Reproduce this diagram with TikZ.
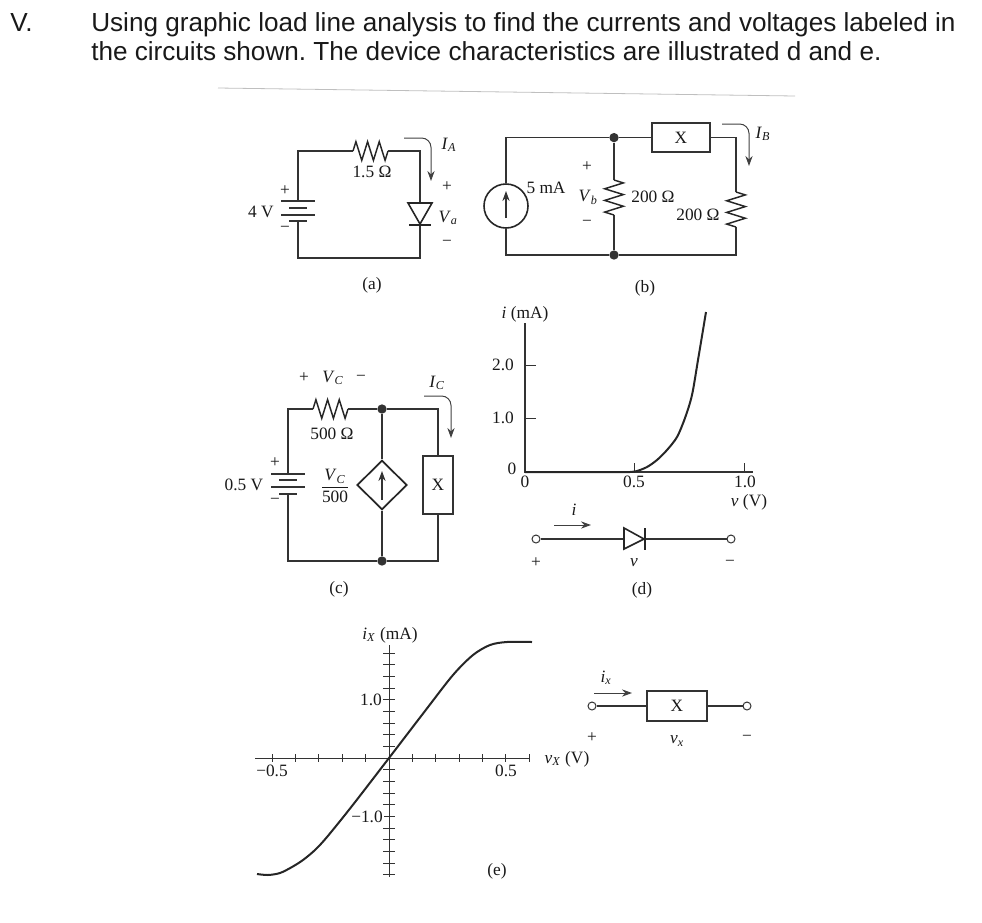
\documentclass[tikz,border=0pt]{standalone}
\usepackage{amsmath}
\usepackage{fontspec}
\setmainfont{Liberation Serif}
\newfontfamily\headfont{Liberation Sans}
\usetikzlibrary{shapes.geometric,arrows.meta,positioning,decorations.pathmorphing}
\frenchspacing
\newcommand{\sym}[2]{\textit{#1}\textsubscript{\textit{#2}}}

\begin{document}
\begin{tikzpicture}[
    x=0.75pt, y=-0.75pt,
    >={Stealth[length=7.5pt,width=5.4pt]},
    every node/.style={font=\fontsize{13}{15}\selectfont, text=black!90, inner sep=0pt},
    head/.style={font=\headfont\fontsize{19.6}{23}\selectfont, anchor=base west},
    wire/.style={draw=black!80, line width=0.85pt},
    res/.style={draw=black!85, line width=1.1pt, decorate, decoration={zigzag, amplitude=7pt, segment length=8.75pt}},
    part/.style={draw=black!85, line width=1.2pt},
    flow/.style={->, draw=black!75, line width=0.75pt, rounded corners=7pt},
    longplate/.style={fill=black!80, minimum width=26pt, minimum height=1.3pt},
    shortplate/.style={fill=black!80, minimum width=14pt, minimum height=1.6pt},
    bar/.style={fill=black!85, minimum width=17pt, minimum height=1.4pt},
    dot/.style={circle, fill=black!80, minimum size=7pt},
    term/.style={circle, draw=black!80, fill=white, line width=0.75pt, minimum size=6pt},
    xbox/.style={rectangle, draw=black!80, fill=white, line width=1.3pt},
    tick/.style={draw=black!80, line width=0.7pt},
    curve/.style={draw=black!85, line width=1.5pt}
]
\useasboundingbox (0,0) rectangle (982,922);

% question text
\node[head] (qnum) at (10,31) {V.};
\node[head] (qline1) at (91,31) {Using graphic load line analysis to find the currents and voltages labeled in};
\node[head] (qline2) at (91,60) {the circuits shown. The device characteristics are illustrated d and e.};
\coordinate (ruleL) at (218,88);
\coordinate (ruleR) at (795,96);
\draw[black!25, line width=0.6pt] (ruleL) -- (ruleR);

% circuit (a)
\coordinate (atl) at (298,151);
\coordinate (atr) at (420,151);
\coordinate (abr) at (420,258);
\coordinate (abl) at (298,258);
\coordinate (ar1) at (353,151);
\coordinate (ar2) at (388,151);
\coordinate (adtop) at (420,203);
\node[longplate] (ap1) at (298,201) {};
\node[shortplate] (ap2) at (298,208) {};
\node[longplate] (ap3) at (298,215) {};
\node[shortplate] (ap4) at (298,221) {};
\node[bar] (adbar) at (420,225) {};
\draw[wire] (ap1) -- (atl) -- (ar1);
\draw[res] (ar1) -- (ar2);
\draw[wire] (ar2) -- (atr) -- (adtop);
\draw[part] (408,203) -- (432,203) -- (420,224) -- cycle;
\draw[wire] (adbar) -- (abr) -- (abl) -- (ap4);
\coordinate (afs) at (404,138);
\coordinate (afc) at (431,138);
\coordinate (afe) at (431,181);
\draw[flow] (afs) -- (afc) -- (afe);
\node (aI) at (449,145) {\sym{I}{A}};
\node (aplus) at (447,187) {+};
\node (aV) at (448,218) {\sym{V}{a}};
\node (aminus) at (447,243) {−};
\node (ar) at (372,172) {1.5 Ω};
\node (abat) at (261,212) {4 V};
\node (abp) at (285,191) {+};
\node (abm) at (285,229) {−};
\node (acap) at (372,285) {(a)};

% circuit (b)
\coordinate (btl) at (506,137.6);
\coordinate (bbl) at (506,255);
\coordinate (btr) at (736,137.6);
\coordinate (bbr) at (736,255);
\coordinate (br1a) at (614,180);
\coordinate (br1b) at (614,215);
\coordinate (br2a) at (736,192);
\coordinate (br2b) at (736,227);
\node[dot] (btop) at (614,137.6) {};
\node[dot] (bbot) at (614,255) {};
\node[xbox, minimum width=44pt, minimum height=22pt] (bx) at (681,137.6) {X};
\node[circle, draw=black!85, line width=1.2pt, minimum size=33pt] (bsrc) at (506,206) {};
\draw[wire] (bsrc) -- (btl) -- (btop) -- (bx);
\draw[wire] (bsrc) -- (bbl) -- (bbot) -- (bbr) -- (br2b);
\draw[wire] (bx) -- (btr) -- (br2a);
\draw[wire] (btop) -- (br1a);
\draw[wire] (br1b) -- (bbot);
\draw[res] (br1a) -- (br1b);
\draw[res] (br2a) -- (br2b);
\coordinate (bas) at (506,218);
\coordinate (bae) at (506,191);
\draw[->, wire] (bas) -- (bae);
\coordinate (bfs) at (722,124);
\coordinate (bfc) at (749,124);
\coordinate (bfe) at (749,166);
\draw[flow] (bfs) -- (bfc) -- (bfe);
\node (bI) at (763,134) {\sym{I}{B}};
\node (bsl) at (546,188) {5 mA};
\node (bplus) at (587,167) {+};
\node (bV) at (588,197) {\sym{V}{b}};
\node (bminus) at (587,223) {−};
\node (br1l) at (653,197) {200 Ω};
\node (br2l) at (698,215) {200 Ω};
\node (bcap) at (645,288) {(b)};

% circuit (c)
\coordinate (ctl) at (288,409);
\coordinate (cbl) at (288,561);
\coordinate (ctr) at (438,409);
\coordinate (cbr) at (438,561);
\coordinate (cr1) at (313,409);
\coordinate (cr2) at (348,409);
\node[longplate] (cp1) at (288,474) {};
\node[shortplate] (cp2) at (288,480) {};
\node[longplate] (cp3) at (288,487) {};
\node[shortplate] (cp4) at (288,494) {};
\node[dot] (ctop) at (382,409) {};
\node[dot] (cbot) at (382,561) {};
\node[diamond, draw=black!85, line width=1.3pt, minimum width=37.5pt, minimum height=37pt] (cdep) at (382,485) {};
\node[xbox, minimum width=23pt, minimum height=44pt] (cx) at (438,485) {X};
\draw[wire] (cp1) -- (ctl) -- (cr1);
\draw[res] (cr1) -- (cr2);
\draw[wire] (cr2) -- (ctop) -- (ctr) -- (cx);
\draw[wire] (ctop) -- (cdep);
\draw[wire] (cdep) -- (cbot);
\draw[wire] (cx) -- (cbr) -- (cbot) -- (cbl) -- (cp4);
\coordinate (cas) at (382,500);
\coordinate (cae) at (382,471);
\draw[->, wire] (cas) -- (cae);
\coordinate (cfs) at (424,396);
\coordinate (cfc) at (451,396);
\coordinate (cfe) at (451,438);
\draw[flow] (cfs) -- (cfc) -- (cfe);
\node (cI) at (437,383) {\sym{I}{C}};
\node (cplus) at (304,378) {+};
\node (cV) at (333,378) {\sym{V}{C}};
\node (cminus) at (361,378) {−};
\node (crl) at (332,434) {500 Ω};
\node (cbat) at (244,485) {0.5 V};
\node (cbp) at (275,463) {+};
\node (cbm) at (275,501) {−};
\node (cfrac) at (335,486) {$\dfrac{\text{\sym{V}{C}}}{\text{500}}$};
\node (ccap) at (339,589) {(c)};

% plot (d)
\coordinate (dO) at (525,472);
\coordinate (dtop) at (525,323);
\coordinate (dright) at (753,472);
\draw[tick, line width=0.9pt] (dtop) -- (dO) -- (dright);
\draw[tick] (525,365) -- (536,365);
\draw[tick] (525,418) -- (536,418);
\draw[tick] (634,472) -- (634,463);
\draw[tick] (744,472) -- (744,463);
\draw[curve] (525,472) -- (630,472) plot[smooth] coordinates {(630,472) (637,471) (647,467) (657,460) (667,450) (677,437) (685,418) (692,395) (698,360) (706,312)};
\node (dyl) at (525,314) {\textit{i} (mA)};
\node (d20) at (503,365) {2.0};
\node (d10) at (503,418) {1.0};
\node (d0y) at (512,469) {0};
\node (d0x) at (525,482) {0};
\node (d05) at (634,482) {0.5};
\node (d1x) at (745,482) {1.0};
\node (dxl) at (749,502) {\textit{v} (V)};
\node (di) at (574,510) {\textit{i}};
\coordinate (das) at (554,525);
\coordinate (dae) at (591,525);
\draw[flow] (das) -- (dae);
\node[term] (dt1) at (536,539) {};
\node[term] (dt2) at (731,539) {};
\node[fill=black!85, minimum width=1.4pt, minimum height=16pt] (dbar) at (645,539) {};
\draw[wire] (dt1) -- (624,539);
\draw[wire] (dbar) -- (dt2);
\draw[part] (624,528) -- (624,549) -- (644,539) -- cycle;
\node (dplus) at (536,563) {+};
\node (dv) at (634,563) {\textit{v}};
\node (dminus) at (730,563) {−};
\node (dcap) at (642,590) {(d)};

% plot (e)
\coordinate (eL) at (255,758);
\coordinate (eR) at (530,758);
\coordinate (eT) at (389,645);
\coordinate (eB) at (389,877);
\draw[tick] (eL) -- (eR);
\draw[tick] (eT) -- (eB);
\foreach \k in {-5,...,6} \draw[tick] (389+\k*23.35,754) -- (389+\k*23.35,762);
\foreach \k in {-9,...,10} \draw[tick] (383,758+\k*11.67) -- (395,758+\k*11.67);
\draw[curve] plot[smooth] coordinates {(257,874) (268,875) (280,873) (292,867) (303,860) (315,850) (327,837) (352,806) (389,758) (425,711) (453,675) (473,655) (490,645) (507,642) (532,642)};
\node (eyl) at (390,635) {\sym{i}{X} (mA)};
\node[fill=white, inner sep=1pt] (e1p) at (371,700) {1.0};
\node[fill=white, inner sep=1pt] (e1m) at (367,817) {−1.0};
\node (e5m) at (272,771) {−0.5};
\node (e5p) at (506,771) {0.5};
\node (exl) at (567,759) {\sym{v}{X} (V)};
\node (ecap) at (497,871) {(e)};
\node[term] (et1) at (592,706) {};
\node[term] (et2) at (747,706) {};
\node[xbox, minimum width=45pt, minimum height=22.5pt] (ex) at (677,706) {X};
\draw[wire] (et1) -- (ex) -- (et2);
\coordinate (eas) at (594,693);
\coordinate (eae) at (632,693);
\draw[flow] (eas) -- (eae);
\node (ei) at (606,678) {\sym{i}{x}};
\node (eplus) at (592,738) {+};
\node (ev) at (677,741) {\sym{v}{x}};
\node (eminus) at (747,738) {−};

\end{tikzpicture}
\end{document}
